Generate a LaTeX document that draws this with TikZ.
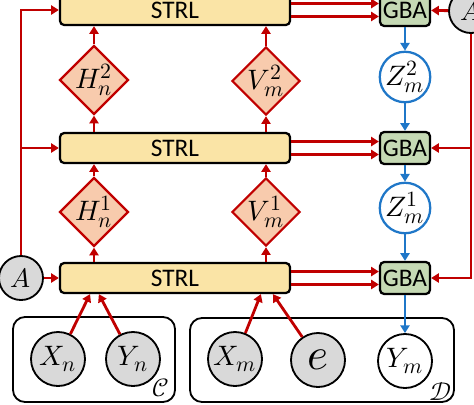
\documentclass[tikz,border=0pt]{standalone}
\usepackage{unicode-math}
\setmathfont{Latin Modern Math}
\setsansfont{Carlito}
\DeclareMathSizes{20}{20}{15.5}{12}
\DeclareMathSizes{19}{19}{15}{11}
\usetikzlibrary{arrows.meta,shapes.geometric}
\definecolor{linkred}{HTML}{C00000}
\definecolor{strlfill}{HTML}{FAE4A6}
\definecolor{hvfill}{HTML}{F8CBAD}
\definecolor{gbafill}{HTML}{C5D9B4}
\definecolor{zblue}{HTML}{1F77C8}
\definecolor{obsgrey}{HTML}{D9D9D9}
\tikzset{
    strlbox/.style={draw=black, line width=1.6pt, fill=strlfill, rounded corners=3pt,
        minimum width=5.75cm, minimum height=0.75cm, font=\sffamily\fontsize{18}{21}\selectfont},
    gbabox/.style={draw=black, line width=1.6pt, fill=gbafill, rounded corners=3pt, inner sep=0pt,
        minimum width=1.25cm, minimum height=0.8cm, font=\sffamily\fontsize{18}{21}\selectfont},
    hvnode/.style={diamond, draw=linkred, line width=1.6pt, fill=hvfill, inner sep=0pt,
        minimum width=1.62cm, minimum height=1.57cm, font=\fontsize{20}{22}\selectfont},
    znode/.style={circle, draw=zblue, line width=1.6pt, fill=white, inner sep=0pt,
        minimum size=1.25cm, font=\fontsize{20}{22}\selectfont},
    obsnode/.style={circle, draw=black, line width=1.3pt, fill=obsgrey, inner sep=0pt,
        minimum size=1.35cm, font=\fontsize{20}{22}\selectfont},
    anode/.style={circle, draw=black, line width=1.3pt, fill=obsgrey, inner sep=0pt,
        minimum size=1.1cm, font=\fontsize{19}{21}\selectfont},
    redarrow/.style={draw=linkred, line width=2pt, -{Triangle[length=5.5pt,width=6.5pt]}},
    bluearrow/.style={draw=zblue, line width=2pt, -{Triangle[length=5.5pt,width=6.5pt]}},
    plate/.style={draw=black, line width=1.3pt, rounded corners=0.3cm}
}
\begin{document}
\begin{tikzpicture}[x=0.025cm,y=-0.025cm]
    \useasboundingbox (0,0) rectangle (474,404);
    % plates
    \draw[plate] (13,317) rectangle (175,402);
    \draw[plate] (190,318) rectangle (454,402);
    \node (platec) at (161,388) {\fontsize{18}{20}\selectfont$\mathcal{C}$};
    \node (plated) at (441,391) {\fontsize{18}{20}\selectfont$\mathcal{D}$};
    % layers
    \node[strlbox] (strlA) at (175,278) {STRL};
    \node[strlbox] (strlB) at (175,148) {STRL};
    \node[strlbox] (strlC) at (175,10) {STRL};
    \node[gbabox] (gbaA) at (405,278) {GBA};
    \node[gbabox] (gbaB) at (405,148) {GBA};
    \node[gbabox] (gbaC) at (405,10) {GBA};
    \node[hvnode] (hA) at (94,212) {$H_n^1$};
    \node[hvnode] (hB) at (94,80) {$H_n^2$};
    \node[hvnode] (vA) at (266,212) {$V_m^1$};
    \node[hvnode] (vB) at (266,81) {$V_m^2$};
    \node[znode] (zA) at (405,208) {$Z_m^1$};
    \node[znode] (zB) at (405,77) {$Z_m^2$};
    \node[anode] (aL) at (21,278) {$A$};
    \node[anode] (aR) at (471,11) {$A$};
    % data
    \node[obsnode] (xn) at (58,359) {$X_n$};
    \node[obsnode] (yn) at (133,359) {$Y_n$};
    \node[obsnode] (xm) at (235,359) {$X_m$};
    \node[obsnode, font=\fontsize{32}{34}\selectfont] (ee) at (318,360) {$e$};
    \node[obsnode, fill=white] (ym) at (405,361) {$Y_m$};
    % inputs of the first layer
    \draw[redarrow] (xn) -- ([xshift=0.78cm]strlA.south west);
    \draw[redarrow] (yn) -- ([xshift=1cm]strlA.south west);
    \draw[redarrow] (xm) -- ([xshift=5.05cm]strlA.south west);
    \draw[redarrow] (ee) -- ([xshift=5.35cm]strlA.south west);
    % A to the left
    \draw[redarrow] (aL) -- (strlA);
    \draw[redarrow] (aL.north) |- (strlC.west);
    \draw[redarrow] (aL.north |- strlB.west) -- (strlB.west);
    % A to the right
    \draw[redarrow] (aR) -- (gbaC);
    \draw[redarrow] (aR.south) |- (gbaA.east);
    \draw[redarrow] (aR.south |- gbaB.east) -- (gbaB.east);
    % up through H and V
    \draw[redarrow] (hA.south |- strlA.north) -- (hA.south);
    \draw[redarrow] (hA.north) -- (hA.north |- strlB.south);
    \draw[redarrow] (hB.south |- strlB.north) -- (hB.south);
    \draw[redarrow] (hB.north) -- (hB.north |- strlC.south);
    \draw[redarrow] (vA.south |- strlA.north) -- (vA.south);
    \draw[redarrow] (vA.north) -- (vA.north |- strlB.south);
    \draw[redarrow] (vB.south |- strlB.north) -- (vB.south);
    \draw[redarrow] (vB.north) -- (vB.north |- strlC.south);
    % STRL to GBA
    \foreach \l in {A,B,C} {
        \draw[redarrow] ([yshift=4.6pt]strl\l.east) -- ([yshift=4.6pt]gba\l.west);
        \draw[redarrow] ([yshift=-4.6pt]strl\l.east) -- ([yshift=-4.6pt]gba\l.west);
    }
    % down through Z
    \draw[bluearrow] (gbaC) -- (zB);
    \draw[bluearrow] (zB) -- (gbaB);
    \draw[bluearrow] (gbaB) -- (zA);
    \draw[bluearrow] (zA) -- (gbaA);
    \draw[bluearrow] (gbaA) -- (ym);
\end{tikzpicture}
\end{document}
